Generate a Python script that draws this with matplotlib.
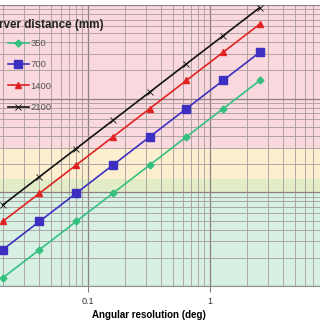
import matplotlib
matplotlib.use("Agg")
import matplotlib.pyplot as plt
from matplotlib.ticker import LogLocator, NullFormatter, FixedLocator, FixedFormatter

plt.rcParams['font.family'] = ['Liberation Sans', 'DejaVu Sans']

# angular resolution (deg)
angle = [0.02, 0.04, 0.08, 0.16, 0.32, 0.64, 1.28, 2.56]
# pixel size (mm) for each viewer distance
d350 = [0.122, 0.244, 0.489, 0.977, 1.955, 3.91, 7.82, 15.65]
d700 = [0.244, 0.489, 0.977, 1.955, 3.91, 7.82, 15.64, 31.3]
d1400 = [0.489, 0.977, 1.955, 3.91, 7.82, 15.64, 31.3, 62.6]
d2100 = [0.733, 1.466, 2.93, 5.86, 11.73, 23.5, 46.9, 93.9]
labels = ['350', '700', '1400', '2100']

# background zones
zone_edges = [0.1, 1.0, 1.4, 3.0, 100]
zone_colors = ['#d6f1e4', '#e2ecc6', '#fcefd0', '#f9d9dd']

fig = plt.figure(figsize=(3.2, 3.2), dpi=100)
ax = fig.add_axes([0, 34/320, 1, 281/320])

for lo, hi, c in zip(zone_edges[:-1], zone_edges[1:], zone_colors):
    ax.axhspan(lo, hi, color=c, zorder=0, lw=0)

ax.set_xscale('log')
ax.set_yscale('log')
ax.set_xlim(10**(-1 - 88/122), 10**((320 - 210)/122))
ax.set_ylim(0.1, 100)

ax.grid(True, which='major', color='#8c8080', lw=0.9, zorder=1)
ax.grid(True, which='minor', color='#a89a9a', lw=0.6, zorder=1)
ax.xaxis.set_minor_locator(LogLocator(base=10, subs=range(2, 10)))
ax.yaxis.set_minor_locator(LogLocator(base=10, subs=range(2, 10)))
ax.xaxis.set_minor_formatter(NullFormatter())
ax.yaxis.set_minor_formatter(NullFormatter())
ax.xaxis.set_major_locator(FixedLocator([0.1, 1]))
ax.xaxis.set_major_formatter(FixedFormatter(['0.1', '1']))
ax.tick_params(axis='x', which='major', length=4, width=0.8, color='#808080',
               labelsize=6.5, labelcolor='#333333', pad=4)
ax.tick_params(axis='x', which='minor', length=0)
ax.tick_params(axis='y', which='both', length=0, labelleft=False)
for s in ['left', 'right', 'top']:
    ax.spines[s].set_visible(False)
ax.spines['bottom'].set_color('#909090')

ax.plot(angle, d350, color='#35c080', marker='D', ms=3.5, lw=1.2, label=labels[0], zorder=3)
ax.plot(angle, d700, color='#3d2fc0', marker='s', ms=5.5, lw=1.2, label=labels[1], zorder=3)
ax.plot(angle, d1400, color='#e02222', marker='^', ms=4.5, lw=1.2, label=labels[2], zorder=3)
ax.plot(angle, d2100, color='#111111', marker='x', ms=5, mew=0.6, lw=1.2, label=labels[3], zorder=3)

ax.set_xlabel('Angular resolution (deg)', fontsize=7, fontweight='bold', labelpad=3)
ax.xaxis.label.set_x(149/320)

fig.text(104/320, 1 - 25/320, 'Observer distance (mm)', ha='right', va='center',
         fontsize=8.4, fontweight='bold', color='#222222')
leg = ax.legend(loc='upper left', bbox_to_anchor=(8/320, 1 - 39/320),
                bbox_transform=fig.transFigure, frameon=False, fontsize=6.8,
                handlelength=2.2, handletextpad=0.2, labelspacing=1.3,
                borderpad=0, borderaxespad=0)
for t in leg.get_texts():
    t.set_color('#555555')

fig.savefig('out.png', dpi=100)
